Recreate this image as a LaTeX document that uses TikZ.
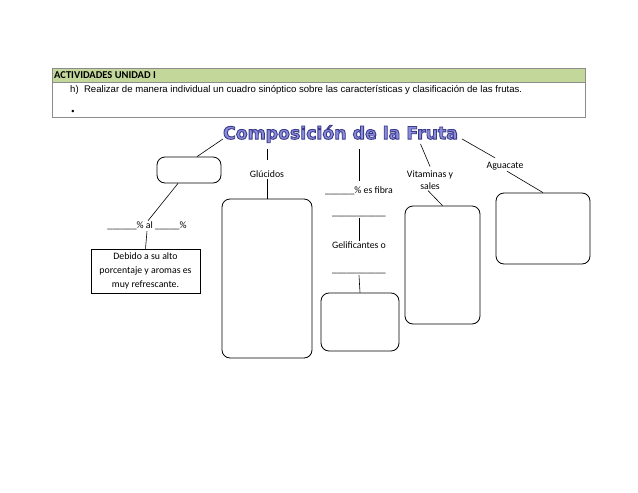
\documentclass[tikz,border=0pt]{standalone}
\usepackage{fontspec}
\setmainfont{Carlito}
\newfontfamily\arialfont{Liberation Sans}
\newfontfamily\titlefont{DejaVu Sans}
\usepackage{xcolor}
\definecolor{HeadGreen}{HTML}{C4D79B}
\definecolor{FrameGray}{HTML}{8C8C8C}
\definecolor{TitleFill}{HTML}{8C8CDC}
\definecolor{TitleEdge}{HTML}{3A3A8A}

\begin{document}
\begin{tikzpicture}[
	x=1pt, y=-1pt,
	% rounded empty boxes
	round box/.style={
		draw=black,
		thick,
		rounded corners=8pt,
		minimum width=#1,
		inner sep=0pt
	},
	% plain labels
	label text/.style={
		font=\fontsize{9.8}{11}\selectfont,
		inner sep=1pt,
		align=center
	},
	% connector lines
	link/.style={
		draw=black,
		semithick
	}
	]
	\useasboundingbox (0,0) rectangle (638,493);
	
	% ================= TABLE =================
	\draw[FrameGray, fill=HeadGreen] (52,68) rectangle (585,82);
	\draw[FrameGray] (52,82) rectangle (585,117);
	\node[anchor=west, inner sep=0pt, font=\bfseries\fontsize{10.5}{11}\selectfont] (head) at (54,75) {ACTIVIDADES UNIDAD I};
	\node[anchor=west, inner sep=0pt, font=\arialfont\fontsize{9.6}{11}\selectfont] (task) at (70,90) {h)\ \ Realizar de manera individual un cuadro sinóptico sobre las características y clasificación de las frutas.};
	\node[inner sep=0pt, font=\arialfont\fontsize{9}{10}\selectfont] (bullet) at (73,112) {•};
	
	% ================= TITLE =================
	\node[inner sep=0pt, text=TitleFill, font=\titlefont\bfseries\fontsize{17.3}{19}\selectfont] (title) at (340.5,134)
		{\special{pdf:code 2 Tr 0.9 w 0.227 0.227 0.541 RG}Composición de la Fruta\special{pdf:code 0 Tr}};
	
	% ================= NODES =================
	\node[round box=64pt, minimum height=26pt] (empty) at (189,170) {};
	\node[label text] (pct) at (147,226) {\_\_\_\_\_\_\% al \_\_\_\_\_\%};
	\node[draw, thick, minimum width=109pt, minimum height=44pt, label text, font=\fontsize{9.8}{14}\selectfont] (debido) at (145.5,271) {Debido a su alto\\porcentaje y aromas es\\muy refrescante.};
	
	\node[label text] (glu) at (267,174) {Glúcidos};
	\node[round box=90pt, minimum height=159pt] (tall) at (267,278.5) {};
	
	\node[label text, font=\fontsize{9.8}{22}\selectfont] (fibra) at (359,202) {\_\_\_\_\_\_\% es fibra\\\_\_\_\_\_\_\_\_\_\_\_};
	\node[label text, font=\fontsize{9.8}{24}\selectfont] (gel) at (359,258) {Gelificantes o\\\_\_\_\_\_\_\_\_\_\_\_};
	\node[round box=78pt, minimum height=58pt] (small) at (360,322) {};
	
	\node[label text, font=\fontsize{9.8}{12}\selectfont] (vit) at (430,180) {Vitaminas y\\sales};
	\node[round box=75pt, minimum height=118pt] (vitbox) at (442.5,265) {};
	
	\node[label text] (agu) at (505,166) {Aguacate};
	\node[round box=94pt, minimum height=71pt] (agubox) at (543,228.5) {};
	
	% ================= EDGES =================
	\draw[link] ([yshift=-5pt]title.west) -- ([xshift=8pt]empty.north);
	\draw[link] ([xshift=-11pt]empty.south) -- ([xshift=1pt]pct.north);
	\draw[link] (pct.south) -- (debido.north);
	
	\draw[link, shorten <=6pt] (glu.north |- title.south) -- ([yshift=9pt]glu.north);
	\draw[link] (glu.south) -- (tall.north);
	
	\draw[link, shorten <=6pt] (fibra.north |- title.south) -- ([yshift=5pt]fibra.north);
	\draw[link] (fibra.south) -- (gel.north);
	\draw[link] (gel.south) -- (small.north);
	
	\draw[link] ([xshift=80pt, yshift=-1pt]title.south) -- ([yshift=3pt]vit.north);
	\draw[link] ([xshift=-2pt]vit.south) -- (vitbox.north);
	
	\draw[link] ([shift={(4pt,-5pt)}]title.east) -- ([xshift=-10pt, yshift=3pt]agu.north);
	\draw[link] ([xshift=2pt]agu.south) -- (agubox.north);
\end{tikzpicture}
\end{document}
